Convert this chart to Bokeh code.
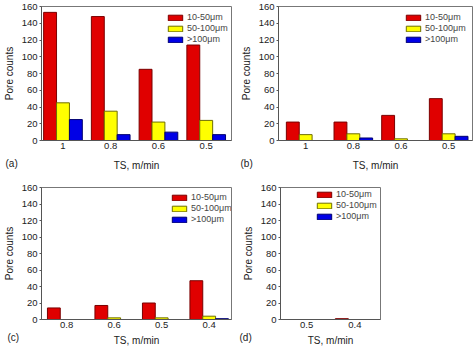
from bokeh.plotting import figure
from bokeh.models import ColumnDataSource, Range1d, FixedTicker, Legend, LegendItem, Title
from bokeh.layouts import row, column
from bokeh.transform import dodge
from bokeh.embed import file_html
from bokeh.resources import INLINE

series_names = ["10-50\u03bcm", "50-100\u03bcm", ">100\u03bcm"]
fill_colors = ["#e00000", "#ffff00", "#0000e6"]
line_colors = ["#7a0000", "#6e6e00", "#00006e"]

# (a)
cats_a = ["1", "0.8", "0.6", "0.5"]
a_small = [153, 148, 85, 114]
a_mid = [45, 35, 22, 24]
a_large = [25, 7, 10, 7]
# (b)
cats_b = ["1", "0.8", "0.6", "0.5"]
b_small = [22, 22, 30, 50]
b_mid = [7, 8, 2, 8]
b_large = [0, 3, 0, 5]
# (c)
cats_c = ["0.8", "0.6", "0.5", "0.4"]
c_small = [14, 17, 20, 47]
c_mid = [0, 2, 2, 4]
c_large = [0, 0, 0, 1]
# (d)
cats_d = ["0.5", "0.4"]
d_small = [0, 1]
d_mid = [0, 0]
d_large = [0, 0]

FONT = "Liberation Sans"
BW = 0.27


def panel(tag, cats, vals, w, h, borders, xr, legend_xy, xlab_standoff, tag_standoff):
    left, right, top, bottom = borders
    p = figure(width=w, height=h, output_backend="svg", toolbar_location=None,
               x_range=Range1d(*xr), y_range=Range1d(0, 160),
               min_border_left=left, min_border_right=right,
               min_border_top=top, min_border_bottom=bottom)
    p.background_fill_color = "white"
    p.border_fill_color = "white"
    p.outline_line_color = "#777777"
    p.outline_line_width = 1
    p.xgrid.visible = False
    p.ygrid.visible = False
    xs = list(range(1, len(cats) + 1))
    src = ColumnDataSource(dict(x=xs, s0=vals[0], s1=vals[1], s2=vals[2]))
    items = []
    for i, (k, off) in enumerate(zip(["s0", "s1", "s2"], [-BW, 0, BW])):
        r = p.vbar(x=dodge("x", off), top=k, width=BW, bottom=0, source=src,
                   fill_color=fill_colors[i], line_color=line_colors[i], line_width=1)
        items.append(LegendItem(label=series_names[i], renderers=[r]))
    leg = Legend(items=items, location=legend_xy, padding=0, margin=0, spacing=1,
                 glyph_width=18, glyph_height=7, label_height=9, label_standoff=3,
                 label_text_font_size="9px", label_text_font=FONT,
                 border_line_alpha=0, background_fill_alpha=0)
    p.add_layout(leg, "center")

    p.xaxis.ticker = FixedTicker(ticks=xs)
    p.xaxis.major_label_overrides = {x: c for x, c in zip(xs, cats)}
    p.yaxis.ticker = FixedTicker(ticks=list(range(0, 161, 20)))
    for ax in (p.xaxis, p.yaxis):
        ax.axis_line_color = "#555555"
        ax.major_tick_line_color = "#555555"
        ax.minor_tick_line_color = None
        ax.major_label_text_font = FONT
        ax.major_label_text_font_size = "9.5px"
        ax.major_label_text_color = "#222222"
        ax.axis_label_text_font = FONT
        ax.axis_label_text_font_size = "10px"
        ax.axis_label_text_font_style = "normal"
        ax.axis_label_text_color = "#222222"
        ax.major_label_standoff = 2
    p.xaxis.major_tick_in = 0
    p.xaxis.major_tick_out = 0
    p.yaxis.major_tick_in = 0
    p.yaxis.major_tick_out = 2
    p.xaxis.axis_label = "TS, m/min"
    p.yaxis.axis_label = "Pore counts"
    p.yaxis.axis_label_standoff = 4
    p.xaxis.axis_label_standoff = xlab_standoff

    # panel tag below the plot, pulled up next to the axis title
    t = Title(text=tag, align="left", vertical_align="top", offset=-(left - 2),
              standoff=tag_standoff, text_font=FONT, text_font_size="10px",
              text_font_style="normal", text_color="#222222")
    p.add_layout(t, "below")
    return p


pa = panel("(a)", cats_a, [a_small, a_mid, a_large], 237, 174, (38, 6, 6, 34), (0.55, 4.53), (125, 96), 8, -31)
pb = panel("(b)", cats_b, [b_small, b_mid, b_large], 237, 174, (40, 2, 6, 34), (0.43, 4.5), (126, 96), 8, -31)
pc = panel("(c)", cats_c, [c_small, c_mid, c_large], 237, 174, (36, 6, 13, 27), (0.47, 4.47), (129, 95), 4, -33)
pd = panel("(d)", cats_d, [d_small, d_mid, d_large], 237, 174, (43, 94, 10, 27), (0.46, 2.53), (35, 98), 4, -33)

layout = column(row(pa, pb), row(pc, pd))
open("out.html", "w").write(file_html(layout, INLINE))
